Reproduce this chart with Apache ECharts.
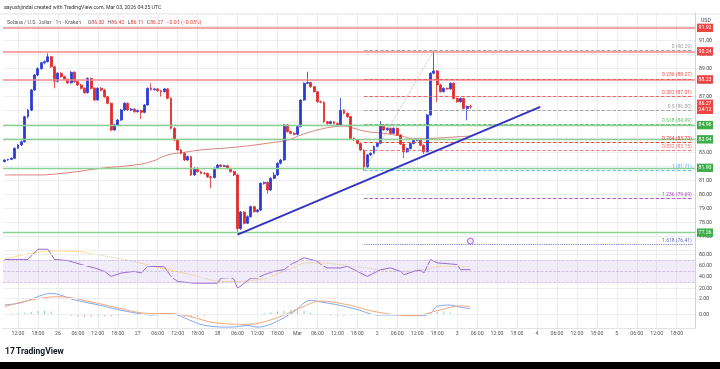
<!DOCTYPE html>
<html><head><meta charset="utf-8">
<script src="https://cdn.jsdelivr.net/npm/echarts@6/dist/echarts.min.js"></script>
<style>html,body{margin:0;padding:0;background:#fff}#c{width:720px;height:369px}</style>
</head><body><div id="c"></div>
<script>
// ---------- DATA ----------
// hourly candles, Feb 25 08:00 -> Mar 3 04:00 UTC : [open, close, low, high]
const ohlc = [
[82.35,82.46,82.28,82.52],[82.46,82.50,82.40,82.56],[82.50,82.58,82.45,82.64],[82.58,83.30,82.52,83.36],
[83.30,83.54,83.24,83.60],[83.54,83.77,83.46,83.84],[83.77,85.56,83.70,85.62],[85.56,86.03,85.44,86.12],
[86.03,87.47,85.96,87.55],[87.47,88.54,87.40,88.62],[88.54,89.00,88.45,89.10],[89.00,89.42,88.92,89.50],
[89.42,89.50,89.30,89.60],[89.50,89.85,89.44,90.10],[89.85,89.14,89.05,89.92],[89.14,88.10,87.59,89.20],
[88.10,88.67,88.02,88.75],[88.67,88.42,88.35,88.74],[88.42,88.24,88.15,88.50],[88.24,87.99,87.90,88.30],
[87.99,88.74,87.92,88.82],[88.74,88.07,88.00,88.80],[88.07,87.83,87.75,88.12],[87.83,87.59,87.50,87.90],
[87.59,87.28,87.20,87.65],[87.28,88.30,87.22,88.38],[88.30,87.59,87.50,88.36],[87.59,86.76,86.68,87.65],
[86.76,87.59,86.70,87.66],[87.59,87.47,87.38,87.68],[87.47,86.99,86.90,87.55],[86.99,86.52,86.44,87.05],
[86.52,84.61,84.52,86.58],[84.61,84.97,84.55,85.05],[84.97,85.32,84.90,85.40],[85.32,86.04,85.25,86.12],
[86.04,86.52,85.98,86.60],[86.52,86.04,85.96,86.58],[86.04,86.10,85.96,86.18],[86.10,85.92,85.84,86.16],
[85.92,86.00,85.85,86.08],[86.00,85.87,85.40,86.06],[85.87,86.40,85.80,86.46],[86.40,87.59,86.34,87.66],
[87.59,87.50,87.42,87.95],[87.50,87.55,87.44,87.62],[87.55,87.42,87.35,87.60],[87.42,87.35,87.00,87.48],
[87.35,87.55,87.30,87.62],[87.55,86.88,86.80,87.60],[86.88,84.73,84.65,86.95],[84.73,83.89,83.80,84.80],
[83.89,83.18,83.10,83.95],[83.18,82.94,82.86,83.25],[82.94,82.46,82.38,83.00],[82.46,82.70,82.40,82.78],
[82.70,81.39,81.32,82.76],[81.39,81.87,81.34,81.95],[81.87,81.62,81.55,81.92],[81.62,81.51,81.44,81.68],
[81.51,81.50,81.42,81.58],[81.50,81.26,81.18,81.56],[81.26,81.20,80.43,81.32],[81.20,81.87,81.14,81.94],
[81.87,82.10,81.80,82.18],[82.10,82.00,81.94,82.16],[82.00,82.05,81.96,82.12],[82.05,81.85,81.78,82.10],
[81.85,81.63,81.55,81.90],[81.63,81.39,81.32,81.70],[81.39,77.55,77.22,81.45],[77.55,78.74,77.45,78.80],
[78.74,77.93,77.85,78.80],[77.93,78.40,77.88,78.50],[78.40,79.12,78.34,79.20],[79.12,78.76,78.70,79.18],
[78.76,78.88,78.70,78.95],[78.88,80.79,78.82,80.86],[80.79,80.85,80.70,80.92],[80.85,80.31,80.05,80.92],
[80.31,81.15,80.25,81.22],[81.15,81.39,81.08,81.60],[81.39,82.22,81.32,82.30],[82.22,82.46,82.15,82.54],
[82.46,84.97,82.40,85.05],[84.97,84.49,84.42,85.02],[84.49,84.37,84.30,84.55],[84.37,84.30,84.22,84.45],
[84.30,84.85,84.24,84.92],[84.85,86.75,84.80,86.82],[86.75,87.95,86.70,88.02],[87.95,88.00,87.90,88.78],
[88.00,87.71,87.64,88.06],[87.71,87.35,87.28,87.76],[87.35,86.63,86.56,87.40],[86.63,86.60,86.52,86.70],
[86.60,85.20,85.12,86.66],[85.20,85.08,85.00,85.26],[85.08,85.20,85.02,85.28],[85.20,85.08,85.00,85.26],
[85.08,84.96,84.88,85.14],[84.96,86.03,84.90,86.90],[86.03,85.80,85.72,86.10],[85.80,85.56,85.48,85.86],
[85.56,84.01,83.94,85.62],[84.01,83.90,83.82,84.08],[83.90,83.65,83.58,83.96],[83.65,83.17,83.10,83.72],
[83.17,81.97,81.71,83.22],[81.97,82.82,81.90,82.90],[82.82,82.94,82.76,83.00],[82.94,83.42,82.88,83.50],
[83.42,83.66,83.36,83.74],[83.66,84.97,83.60,85.25],[84.97,84.61,84.54,85.03],[84.61,84.73,84.55,84.80],
[84.73,84.37,84.30,84.78],[84.37,84.73,84.32,84.80],[84.73,84.25,84.18,84.78],[84.25,83.60,83.53,84.30],
[83.60,83.05,82.60,83.66],[83.05,83.28,82.98,83.35],[83.28,83.64,83.22,83.70],[83.64,83.88,83.58,83.95],
[83.88,83.90,83.80,83.98],[83.90,83.52,83.45,83.96],[83.52,83.05,82.90,83.58],[83.05,85.68,83.00,85.75],
[85.68,88.67,85.62,88.74],[88.67,88.83,88.60,90.29],[88.83,87.83,86.60,88.90],[87.83,87.35,87.28,87.90],
[87.35,87.59,87.30,87.66],[87.59,87.55,87.48,87.65],[87.55,87.95,87.50,88.02],[87.95,86.87,86.80,88.00],
[86.87,86.63,86.56,86.92],[86.63,86.87,86.58,86.94],[86.87,86.15,86.08,86.92],[86.15,86.30,85.30,86.36],
[86.30,86.27,86.11,86.42]
];
const slotCount = 208;                       // hourly slots on the time scale
const timeLabels = ['12:00','18:00','26','06:00','12:00','18:00','27','06:00','12:00','18:00','28','06:00','12:00','18:00','Mar','06:00','12:00','18:00','2','06:00','12:00','18:00','3','06:00','12:00','18:00','4','06:00','12:00','18:00','5','06:00','12:00','18:00'];
// moving average readings [slot, value]
const maPoints = [[0,81.39],[9,81.39],[19,81.55],[29,81.87],[39,82.10],[44,82.34],[49,82.82],[54,83.01],[59,83.18],[69,83.37],[79,83.66],[85,83.89],[89,84.25],[94,84.61],[99,84.84],[102,84.89],[105,84.73],[109,84.49],[114,84.37],[119,84.18],[123,84.01],[127,84.01],[134,84.09],[140,84.18]];
// horizontal levels
const resistanceLevels = [91.92, 90.24, 88.23];
const supportLevels = [84.96, 83.94, 81.90, 77.26];
const lastClose = 86.27, barCountdown = '24:12';
// Fibonacci retracement
const fibRatios = ['0','0.236','0.382','0.5','0.618','0.764','0.832','1','1.236','1.618'];
const fibPrices = [90.29, 88.27, 87.01, 86.00, 84.99, 83.73, 83.15, 81.71, 79.69, 76.41];
const fibFrom = 108, fibTo = 207, fibHigh = [129, 90.29], fibLow = [108, 81.71];
// trendline anchors [slot, price]
const trendStart = [70, 77.12], trendEnd = [161, 86.26];
const alertIcon = [140, 76.66];
// RSI
const rsiTicks = [20,40,60,80];
const rsiPoints = [[0,71],[7,71],[10,89],[13,89],[15,71],[19,69],[23,62],[25,59],[27,56],[30,50],[32,41],[35,47],[39,50],[41,47],[43,59],[48,58],[50,41],[52,32],[57,29],[61,29],[64,29],[65,38],[68,39],[69,35],[70,20],[72,29],[74,38],[76,38],[78,44],[81,50],[84,53],[86,62],[90,74],[94,68],[95,62],[97,56],[101,56],[103,59],[106,50],[109,41],[111,47],[113,53],[116,56],[119,50],[120,44],[123,50],[125,52],[126,47],[128,71],[130,65],[134,63],[136,62],[137,53],[140,53]];
const rsiMaPoints = [[0,71],[16,86],[33,74],[47,56],[56,44],[67,32],[76,35],[84,50],[92,65],[101,62],[109,56],[117,50],[126,53],[132,59],[140,59]];
// MACD
const macdTicks = [0, 2];
const macdPoints = [[0,1.17],[5,1.45],[12,2.5],[14,2.6],[21,1.8],[29,1.1],[34,0.6],[40,0.12],[44,-0.08],[50,0.04],[52,-0.08],[56,-0.8],[61,-1.45],[68,-1.6],[73,-1.4],[76,-1.6],[81,-1.05],[87,0.35],[92,1.75],[95,1.55],[101,1.1],[106,0.6],[112,-0.08],[119,-0.08],[125,-0.17],[128,0.12],[130,1.0],[134,1.15],[137,0.88],[140,0.7]];
const signalPoints = [[0,0.96],[16,2.2],[26,1.55],[34,0.8],[43,0.12],[50,0.08],[56,-0.3],[63,-1.05],[73,-1.25],[81,-0.55],[90,1.0],[95,1.65],[103,1.2],[112,0.28],[123,-0.17],[131,0.56],[137,1.05],[140,0.92]];
const histPoints = [[2,0.1],[4,0.15],[6,0.2],[8,0.3],[10,0.4],[12,0.45],[14,0.35],[18,-0.1],[20,-0.2],[22,-0.3],[24,-0.35],[26,-0.3],[28,-0.25],[30,-0.25],[32,-0.3],[34,-0.2],[40,0.05],[44,-0.05],[52,-0.2],[54,-0.3],[56,-0.4],[58,-0.3],[60,-0.2],[76,0.05],[78,0.15],[80,0.25],[82,0.35],[84,0.45],[86,0.55],[88,0.5],[90,0.4],[92,0.2],[96,-0.1],[98,-0.2],[100,-0.25],[102,-0.2],[104,-0.15],[106,-0.1],[128,0.1],[130,0.3],[132,0.35],[134,0.2],[136,0.1]];

// ---------- STYLE ----------
const FONT = 'Roboto, "Noto Sans", sans-serif';
const fibColors = ['#9e9e9e','#ef5350','#ef5350','#9e9e9e','#66bb6a','#e53935','#e57373','#64b5f6','#ab47bc','#5c6bc0'];
const fibTypes = ['dashed','dashed','dashed','dashed','dashed','dashed','dashed','dashed','dashed','dotted'];
const gridColor = '#eceef2';

const slots = Array.from({length: slotCount}, (_, i) => 's' + i);
const isLabelSlot = i => i % 6 === 4;
const fmt2 = v => v.toFixed(2);

const chart = echarts.init(document.getElementById('c'), null, {renderer: 'canvas'});

const tag = (bg, text) => ({show: true, position: 'end', distance: 2, formatter: text,
  backgroundColor: bg, color: '#fff', fontSize: 5.2, fontFamily: FONT, padding: [1.2, 1.5], lineHeight: 6});

const levelLines = [];
resistanceLevels.forEach(v => levelLines.push({yAxis: v, lineStyle: {color: '#f28a8a', width: 1.6, type: 'solid'}, label: tag('#ef4444', fmt2(v))}));
supportLevels.forEach(v => levelLines.push({yAxis: v, lineStyle: {color: '#8bd193', width: 1.4, type: 'solid'}, label: tag('#3fae4a', fmt2(v))}));
levelLines.push({yAxis: lastClose, lineStyle: {color: 'rgba(0,0,0,0)', width: 0}, label: tag('#ef4444', fmt2(lastClose) + '\n' + barCountdown)});

const fibLines = fibPrices.map((p, k) => [
  {coord: [fibFrom, p], lineStyle: {color: fibColors[k], width: 0.9, type: fibTypes[k]},
   label: {show: true, position: 'insideEndTop', distance: 1.5, formatter: fibRatios[k] + ' (' + fmt2(p) + ')', color: fibColors[k], fontSize: 5, fontFamily: FONT}},
  {coord: [fibTo, p]}
]);
fibLines.push([{coord: trendStart, lineStyle: {color: '#3333c4', width: 2, type: 'solid'}, label: {show: false}}, {coord: trendEnd}]);
fibLines.push([{coord: fibLow, lineStyle: {color: '#a8a8a8', width: 0.8, type: 'dotted'}, label: {show: false}}, {coord: fibHigh}]);

const xAxisBase = (g, showLabels) => ({
  type: 'category', gridIndex: g, data: slots, boundaryGap: true,
  axisLine: {show: showLabels, lineStyle: {color: '#e0e3e8'}},
  axisTick: {show: false},
  axisLabel: showLabels ? {show: true, interval: 0, fontSize: 5.2, color: '#555', fontFamily: FONT, margin: 3.5,
    formatter: (v, i) => isLabelSlot(i) ? timeLabels[(i - 4) / 6] : ''} : {show: false},
  splitLine: {show: g === 0 || g === 3, interval: (i) => isLabelSlot(i), alignWithLabel: true, lineStyle: {color: gridColor, width: 1}}
});

const option = {
  animation: false,
  backgroundColor: '#ffffff',
  textStyle: {fontFamily: FONT},
  grid: [
    {left: 3, right: 25, top: 12.76, height: 237.5},
    {left: 3, right: 25, top: 243, height: 56.67},
    {left: 3, right: 25, top: 290.3, height: 40},
    {left: 3, right: 25, top: 250.26, height: 77.74}
  ],
  xAxis: [xAxisBase(0, false), xAxisBase(1, false), xAxisBase(2, false), xAxisBase(3, true)],
  yAxis: [
    {gridIndex: 0, type: 'value', position: 'right', min: 76, max: 93, interval: 1,
     axisLine: {show: true, lineStyle: {color: '#cfd3d9'}}, axisTick: {show: false},
     axisLabel: {fontSize: 5.2, color: '#444', margin: 4, fontFamily: FONT, showMinLabel: false, showMaxLabel: false, formatter: v => fmt2(v)},
     splitLine: {show: true, lineStyle: {color: gridColor}}},
    {gridIndex: 1, type: 'value', position: 'right', min: 0, max: 100, interval: 20,
     axisLine: {show: false}, axisTick: {show: false}, splitLine: {show: false},
     axisLabel: {fontSize: 5.2, color: '#444', margin: 4, fontFamily: FONT, formatter: v => rsiTicks.includes(v) ? fmt2(v) : ''}},
    {gridIndex: 2, type: 'value', position: 'right', min: -2, max: 3, interval: 1,
     axisLine: {show: false}, axisTick: {show: false}, splitLine: {show: false},
     axisLabel: {fontSize: 5.2, color: '#444', margin: 4, fontFamily: FONT, formatter: v => macdTicks.includes(v) ? fmt2(v) : ''}},
    {gridIndex: 3, type: 'value', position: 'right', min: 0, max: 1,
     axisLine: {show: true, lineStyle: {color: '#cfd3d9'}}, axisTick: {show: false}, axisLabel: {show: false}, splitLine: {show: false}}
  ],
  series: [
    {
      type: 'candlestick', xAxisIndex: 0, yAxisIndex: 0, data: ohlc, barWidth: 2.4, z: 3,
      itemStyle: {color: '#2c3bd6', color0: '#e12b2b', borderColor: '#2c3bd6', borderColor0: '#e12b2b', borderWidth: 0.8},
      markLine: {silent: true, symbol: ['none', 'none'], animation: false, data: levelLines},
      markPoint: {silent: true, animation: false, data: [{coord: alertIcon, symbol: 'circle', symbolSize: 6,
        itemStyle: {color: '#f3e8fb', borderColor: '#9c4fd0', borderWidth: 0.9}, label: {show: false}}]}
    },
    {
      type: 'line', xAxisIndex: 0, yAxisIndex: 0, data: maPoints, smooth: 0.5, showSymbol: false, z: 2,
      lineStyle: {color: '#d9837c', width: 1},
      markLine: {silent: true, symbol: ['none', 'none'], animation: false, data: fibLines}
    },
    {
      type: 'line', xAxisIndex: 1, yAxisIndex: 1, data: rsiPoints, showSymbol: false, z: 3,
      lineStyle: {color: '#9b6bd3', width: 1},
      markArea: {silent: true, itemStyle: {color: 'rgba(156,108,216,0.13)'}, data: [[{yAxis: 30}, {yAxis: 70}]]},
      markLine: {silent: true, symbol: ['none', 'none'], animation: false, label: {show: false},
        data: [
          ...rsiTicks.map(v => ({yAxis: v, lineStyle: {color: gridColor, type: 'solid', width: 1}})),
          ...[70, 50, 30].map(v => ({yAxis: v, lineStyle: {color: '#c2b2dc', type: 'dashed', width: 0.7}}))
        ]}
    },
    {
      type: 'line', xAxisIndex: 1, yAxisIndex: 1, data: rsiMaPoints, smooth: 0.5, showSymbol: false, z: 2,
      lineStyle: {color: '#f2c25a', width: 1, type: 'dotted'}
    },
    {
      type: 'bar', xAxisIndex: 2, yAxisIndex: 2, data: histPoints, barWidth: 0.9, z: 2,
      itemStyle: {color: p => p.value[1] >= 0 ? '#86d3c0' : '#f4a3a3'},
      markLine: {silent: true, symbol: ['none', 'none'], animation: false, label: {show: false},
        data: macdTicks.map(v => ({yAxis: v, lineStyle: {color: gridColor, type: 'solid', width: 1}}))}
    },
    {
      type: 'line', xAxisIndex: 2, yAxisIndex: 2, data: macdPoints, smooth: 0.4, showSymbol: false, z: 3,
      lineStyle: {color: '#7fa7ee', width: 1}
    },
    {
      type: 'line', xAxisIndex: 2, yAxisIndex: 2, data: signalPoints, smooth: 0.4, showSymbol: false, z: 3,
      lineStyle: {color: '#f4a77a', width: 1}
    }
  ],
  graphic: [
    {type: 'line', shape: {x1: 0, y1: 14, x2: 720, y2: 14}, style: {stroke: '#dcdfe4', lineWidth: 0.8}, silent: true},
    {type: 'text', left: 4, top: 5, style: {text: 'aayushjindal created with TradingView.com, Mar 03, 2026 04:35 UTC', fill: '#333', fontSize: 5.2, fontFamily: FONT}},
    {type: 'text', left: 7, top: 17, style: {
      text: '{g|Solana / U.S. Dollar · 1h · Kraken}  {g|O}{r|86.30} {g|H}{r|86.42} {g|L}{r|86.11} {g|C}{r|86.27} {r|−0.03 (−0.03%)}',
      rich: {g: {fill: '#555', fontSize: 5.2, fontFamily: FONT}, r: {fill: '#e53935', fontSize: 5.2, fontFamily: FONT}}}},
    {type: 'text', left: 701, top: 18, style: {text: 'USD', fill: '#444', fontSize: 5.2, fontFamily: FONT}},
    {type: 'text', left: 5, top: 347, style: {text: '17', fill: '#131722', fontSize: 8.5, fontWeight: 'bold', fontFamily: FONT}},
    {type: 'text', left: 16, top: 347, style: {text: 'TradingView', fill: '#131722', fontSize: 8.5, fontWeight: 'bold', fontFamily: FONT}},
    {type: 'rect', shape: {x: 0, y: 362, width: 720, height: 7}, style: {fill: '#000'}, silent: true}
  ]
};
chart.setOption(option);
</script></body></html>
